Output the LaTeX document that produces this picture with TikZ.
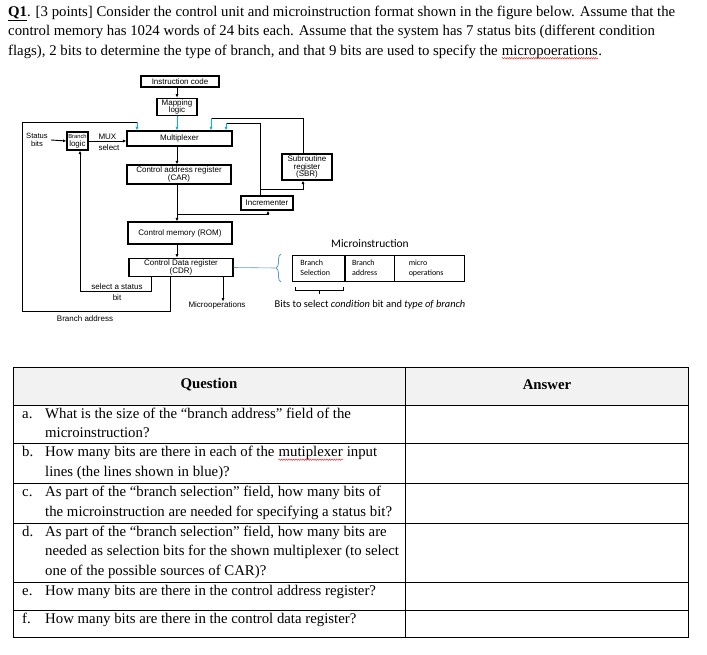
\documentclass[tikz,border=0pt]{standalone}
\usepackage{fontspec}
\setmainfont{Liberation Serif}
\newfontfamily\arialf{Liberation Sans}
\newfontfamily\calibf{Carlito}
\usetikzlibrary{arrows.meta,decorations.pathreplacing,decorations.pathmorphing}
\definecolor{muxblue}{RGB}{0,176,240}
\definecolor{bracecol}{RGB}{91,155,213}
\definecolor{headgray}{RGB}{242,242,242}
\newcommand\spellwave[1]{\tikz[x=1pt,y=1pt,baseline=(w.base)]{\node[inner sep=0pt] (w) {#1};
	\draw[red, line width=0.4pt, decorate, decoration={snake, amplitude=0.7pt, segment length=2.4pt}] ([yshift=-3pt]w.base west) -- ([yshift=-3pt]w.base east);}}
\tikzset{
	blk/.style={draw, line width=1.1pt, inner sep=0pt, align=center, font=\arialf\fontsize{8}{7.8}\selectfont},
	lbl/.style={inner sep=0pt, align=center, font=\arialf\fontsize{8}{11}\selectfont},
	field/.style={draw, line width=0.7pt, minimum height=26pt, inner ysep=0pt, align=left, font=\calibf\fontsize{8}{10}\selectfont},
	qtext/.style={inner sep=0pt, align=left, font=\fontsize{14.8}{19.5}\selectfont},
	wire/.style={line width=0.9pt},
	tip/.style={-{Latex[length=3.5pt,width=3pt]}},
	bluein/.style={muxblue, line width=1pt, -{Latex[length=3.5pt,width=3pt]}}
}

\begin{document}
\begin{tikzpicture}[x=1pt,y=-1pt]
			%%%%% START %%%%%
			\useasboundingbox (0,0) rectangle (707,655);
			
			\node[qtext, anchor=north west] (intro) at (8,2.35) {\strut\textbf{\underline{Q1}}. [3 points] Consider the control unit and microinstruction format shown in the figure below. Assume that the\\control memory has 1024 words of 24 bits each. Assume that the system has 7 status bits (different condition\\flags), 2 bits to determine the type of branch, and that 9 bits are used to specify the \spellwave{micropoerations}.};
			
			\node[blk, minimum width=78pt, minimum height=11pt] (inscode) at (180,81.5) {Instruction code};
			\node[blk, minimum width=40pt, minimum height=17.5pt] (maplogic) at (177,107) {Mapping\\logic};
			\node[blk, minimum width=105pt, minimum height=15pt] (mux) at (179.5,138.5) {Multiplexer};
			\node[blk, minimum width=21pt, minimum height=18pt] (brlogic) at (77.5,141) {{\fontsize{5.8}{6}\selectfont Branch}\\logic};
			\node[blk, minimum width=104pt, minimum height=19pt] (car) at (179,174.5) {Control address register\\(CAR)};
			\node[blk, minimum width=50pt, minimum height=26pt] (sbr) at (307,167) {Subroutine\\register\\(SBR)};
			\node[blk, minimum width=52pt, minimum height=14pt] (incr) at (267,203) {Incrementer};
			\node[blk, minimum width=104pt, minimum height=22pt] (rom) at (180,233) {Control memory (ROM)};
			\node[blk, minimum width=104pt, minimum height=18.5pt] (cdr) at (181,267.5) {Control Data register\\(CDR)};
			
			\node[lbl, font=\arialf\fontsize{7.6}{8}\selectfont] (status) at (37,140) {Status\\bits};
			\node[lbl, align=left] (muxsel) at (109,142) {MUX\\select};
			\node[lbl] (sellbl) at (117,292.5) {select a status\\bit};
			\node[lbl] (addrlbl) at (85,319) {Branch address};
			\node[lbl] (microops) at (217,305.5) {Microoperations};
			
			\coordinate (spine) at (177,0);
			\coordinate (incfeed) at (177,214);
			\coordinate (incout) at (260,196);
			\coordinate (sbrin) at (260,189);
			\coordinate (in1) at (137,122);
			\coordinate (in2) at (211,118.5);
			\coordinate (in3) at (226,123);
			\coordinate (selbit) at (80,291);
			\coordinate (braddr) at (22,311);
			\coordinate (opsout) at ([xshift=42pt]cdr.south);
			
			\draw[wire,tip] (inscode.south -| maplogic.north) -- (maplogic.north);
			\draw[bluein] (maplogic.south) -- (maplogic.south |- mux.north);
			\draw[wire,tip] ([xshift=3pt]status.east) -- (brlogic.west);
			\draw[wire,tip] (brlogic.east) -- (brlogic.east -| mux.west);
			\draw[wire,tip] (mux.south -| spine) -- (car.north -| spine);
			\draw[wire,tip] (car.south -| spine) -- (rom.north -| spine);
			\draw[wire,tip] (rom.south -| spine) -- (cdr.north -| spine);
			\draw[wire,tip] (incfeed) -| ([xshift=1pt]incr.south);
			\draw[wire] (incout) |- (in3);
			\draw[bluein] (in3) -- (in3 |- mux.north);
			\draw[wire,tip] (sbrin) -| ([xshift=-4pt]sbr.south);
			\draw[wire] ([xshift=-4pt]sbr.north) |- (in2);
			\draw[bluein] (in2) -- (in2 |- mux.north);
			\draw[wire,tip] ([xshift=-30pt]cdr.south) |- (selbit) -- (selbit |- brlogic.south);
			\draw[wire] ([xshift=-11pt]cdr.south) |- (braddr) |- (in1);
			\draw[bluein] (in1) -- (in1 |- mux.north);
			\draw[wire,tip] (opsout) -- (opsout |- microops.north);
			
			\node[inner sep=0pt, font=\calibf\fontsize{11.5}{11.5}\selectfont] (mititle) at (370,244) {Microinstruction};
			\node[field, anchor=west, text width=36pt, inner xsep=8pt] (bsel) at (292,268) {Branch\\Selection};
			\node[field, anchor=west, text width=35pt, inner xsep=7pt] (baddr) at (bsel.east) {Branch\\address};
			\node[field, anchor=west, text width=42pt, inner xsep=14pt] (mops) at (baddr.east) {micro\\operations};
			\coordinate (bracetip) at (275,268);
			\draw[bracecol, line width=0.8pt, decorate, decoration={brace, amplitude=5pt}] (281,282) -- (281,254);
			\draw[bracecol, line width=0.6pt] (cdr.east) -- (bracetip);
			\draw[line width=0.6pt] (295,287) -- (295,290) -- (343,290) -- (343,287);
			\draw[line width=0.6pt] (319,290) -- (319,294);
			\node[inner sep=0pt, font=\calibf\fontsize{10.4}{10.4}\selectfont] (bitsel) at (370,305) {Bits to select \textit{condition} bit and \textit{type of branch}};
			
			\fill[headgray] (13,367) rectangle (688,405);
			\draw[line width=0.8pt] (13,367) rectangle (688,637.5);
			\draw[line width=0.8pt] (405,367) -- (405,637.5);
			\foreach \y in {405,443.5,483.5,523,582,610}
				\draw[line width=0.8pt] (13,\y) -- (688,\y);
			\node[qtext, font=\bfseries\fontsize{14.8}{14.8}\selectfont] (qhead) at (209,385) {Question};
			\node[qtext, font=\bfseries\fontsize{14.8}{14.8}\selectfont] (ahead) at (547,385) {Answer};
			\foreach \lbl/\ytop/\txt in {
				a/405/{What is the size of the ``branch address'' field of the\\microinstruction?},
				b/443.5/{How many bits are there in each of the \spellwave{mutiplexer} input\\lines (the lines shown in blue)?},
				c/483.5/{As part of the ``branch selection'' field, how many bits of\\the microinstruction are needed for specifying a status bit?},
				d/523/{As part of the ``branch selection'' field, how many bits are\\needed as selection bits for the shown multiplexer (to select\\one of the possible sources of CAR)?},
				e/582/{How many bits are there in the control address register?},
				f/610/{How many bits are there in the control data register?}}
			{
				\node[qtext, anchor=north west] (lbl-\lbl) at (22,{\ytop-0.65}) {\strut\lbl.};
				\node[qtext, anchor=north west] (q-\lbl) at (45,{\ytop-0.65}) {\strut\txt};
			}
			
			%%%%% END %%%%%
\end{tikzpicture}
\end{document}
